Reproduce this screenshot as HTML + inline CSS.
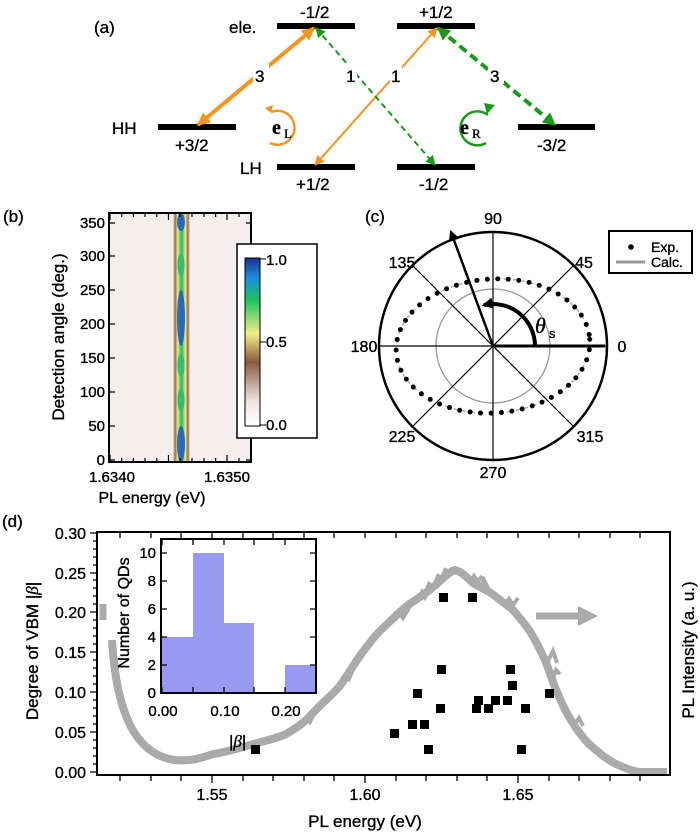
<!DOCTYPE html>
<html><head><meta charset="utf-8"><style>
html,body{margin:0;padding:0;background:#fff}
svg{display:block;font-family:"Liberation Sans",Arial,sans-serif}
text{stroke:#000;stroke-width:0.35}
</style></head><body>
<svg width="700" height="832" viewBox="0 0 700 832" xmlns="http://www.w3.org/2000/svg">
<defs>
<marker id="ao" viewBox="0 0 10 10" refX="9" refY="5" markerUnits="userSpaceOnUse" markerWidth="11" markerHeight="10" orient="auto-start-reverse"><path d="M0,0L10,5L0,10z" fill="#f7941d"/></marker>
<marker id="ao2" viewBox="0 0 10 10" refX="9" refY="5" markerUnits="userSpaceOnUse" markerWidth="15" markerHeight="13" orient="auto-start-reverse"><path d="M0,0L10,5L0,10z" fill="#f7941d"/></marker>
<marker id="ag" viewBox="0 0 10 10" refX="9" refY="5" markerUnits="userSpaceOnUse" markerWidth="11" markerHeight="10" orient="auto-start-reverse"><path d="M0,0L10,5L0,10z" fill="#1a9a1a"/></marker>
<marker id="ag2" viewBox="0 0 10 10" refX="9" refY="5" markerUnits="userSpaceOnUse" markerWidth="15" markerHeight="13" orient="auto-start-reverse"><path d="M0,0L10,5L0,10z" fill="#1a9a1a"/></marker>
<marker id="ak" viewBox="0 0 10 10" refX="8" refY="5" markerUnits="userSpaceOnUse" markerWidth="13" markerHeight="11" orient="auto"><path d="M0,0L10,5L0,10z" fill="#000"/></marker>
<linearGradient id="cb" x1="0" y1="1" x2="0" y2="0">
<stop offset="0" stop-color="#ffffff"/><stop offset="0.15" stop-color="#ece4e2"/><stop offset="0.38" stop-color="#8a5a3e"/><stop offset="0.55" stop-color="#f3ee88"/><stop offset="0.75" stop-color="#20c060"/><stop offset="0.88" stop-color="#1a90e0"/><stop offset="1" stop-color="#1a2e90"/></linearGradient>
<linearGradient id="ln" x1="0" y1="0" x2="1" y2="0">
<stop offset="0" stop-color="#f3ecea"/><stop offset="0.12" stop-color="#9a6a4a"/><stop offset="0.28" stop-color="#f0ea80"/><stop offset="0.45" stop-color="#40c070"/><stop offset="0.55" stop-color="#40c070"/><stop offset="0.72" stop-color="#f0ea80"/><stop offset="0.88" stop-color="#9a6a4a"/><stop offset="1" stop-color="#f3ecea"/></linearGradient>
</defs>

<!-- Panel (a) -->
<g font-size="17" fill="#000">
<text x="94" y="33">(a)</text>
<text x="229" y="33">ele.</text>
<text x="300" y="18">-1/2</text>
<text x="419" y="18">+1/2</text>
<text x="112" y="134">HH</text>
<text x="175" y="151">+3/2</text>
<text x="537" y="151">-3/2</text>
<text x="240" y="174">LH</text>
<text x="296" y="190">+1/2</text>
<text x="419" y="190">-1/2</text>
</g>
<g fill="#000">
<rect x="277" y="23" width="78" height="6"/><rect x="397" y="23" width="78" height="6"/>
<rect x="158" y="124" width="78" height="6"/><rect x="518" y="124" width="77" height="6"/>
<rect x="277" y="164" width="78" height="6"/><rect x="397" y="164" width="78" height="6"/>
</g>
<line x1="314" y1="28" x2="198" y2="125" stroke="#f7941d" stroke-width="4" marker-start="url(#ao2)" marker-end="url(#ao2)"/>
<line x1="437" y1="28" x2="315" y2="165" stroke="#f7941d" stroke-width="2" marker-start="url(#ao)" marker-end="url(#ao)"/>
<line x1="316" y1="28" x2="435" y2="165" stroke="#1a9a1a" stroke-width="2" stroke-dasharray="6,4" marker-start="url(#ag)" marker-end="url(#ag)"/>
<line x1="438" y1="28" x2="555" y2="125" stroke="#1a9a1a" stroke-width="4" stroke-dasharray="9,5" marker-start="url(#ag2)" marker-end="url(#ag2)"/>
<rect x="253" y="64" width="16" height="20" fill="#fff"/><text x="255" y="82" font-size="17">3</text>
<rect x="345" y="64" width="12" height="20" fill="#fff"/><text x="346" y="82" font-size="17">1</text>
<rect x="390" y="64" width="12" height="20" fill="#fff"/><text x="391" y="82" font-size="17">1</text>
<rect x="488" y="64" width="16" height="20" fill="#fff"/><text x="490" y="82" font-size="17">3</text>
<path d="M271,112 A17,17 0 1 1 270,143" fill="none" stroke="#f7941d" stroke-width="2.5"/>
<path d="M265,108 l8,-3 -2,8z" fill="#f7941d"/>
<text x="272" y="134" font-family="Liberation Serif,serif" font-weight="bold" font-size="20" fill="#000">e</text><text x="284" y="138" font-family="Liberation Serif,serif" font-size="13">L</text>
<path d="M488,115 A17,17 0 1 0 486,143" fill="none" stroke="#1a9a1a" stroke-width="2.5"/>
<path d="M484,103 l11,2 -8,9z" fill="#1a9a1a"/>
<text x="460" y="134" font-family="Liberation Serif,serif" font-weight="bold" font-size="20">e</text><text x="472" y="138" font-family="Liberation Serif,serif" font-size="13">R</text>

<!-- Panel (b) -->
<text x="3" y="222" font-size="17">(b)</text>
<rect x="109" y="213" width="142" height="249" fill="#f4efee"/>
<rect x="173" y="213" width="17" height="249" fill="url(#ln)"/>
<g fill="#2060c0" opacity="0.9">
<ellipse cx="181" cy="444" rx="4" ry="18"/><ellipse cx="181" cy="318" rx="4" ry="28"/><ellipse cx="181" cy="222" rx="4" ry="9"/>
</g>
<g fill="#30c070"><ellipse cx="181" cy="400" rx="3.5" ry="12"/><ellipse cx="181" cy="365" rx="3.5" ry="12"/><ellipse cx="181" cy="265" rx="3.5" ry="12"/></g>
<rect x="109" y="213" width="142" height="249" fill="none" stroke="#000" stroke-width="2"/>
<g stroke="#000" stroke-width="1.2">
<path d="M109,460h6M109,426h6M109,392h6M109,358h6M109,324h6M109,290h6M109,256h6M109,223h6"/>
<path d="M251,460h-5M251,426h-5M251,392h-5M251,358h-5M251,324h-5M251,290h-5M251,256h-5M251,223h-5"/>
<path d="M110,462v-7M121.7,462v-4M133.4,462v-4M145,462v-4M156.8,462v-4M168.5,462v-7M180,462v-4M192,462v-4M204,462v-4M215.6,462v-4M227,462v-7M239,462v-4M251,462v-4"/>
<path d="M110,213v7M121.7,213v4M133.4,213v4M145,213v4M156.8,213v4M168.5,213v7M180,213v4M192,213v4M204,213v4M215.6,213v4M227,213v7M239,213v4"/>
</g>
<g font-size="15" text-anchor="end">
<text x="105" y="465">0</text><text x="105" y="431">50</text><text x="105" y="397">100</text><text x="105" y="363">150</text><text x="105" y="329">200</text><text x="105" y="295">250</text><text x="105" y="261">300</text><text x="105" y="228">350</text>
</g>
<g font-size="15" text-anchor="middle"><text x="112" y="482">1.6340</text><text x="227" y="482">1.6350</text><text x="152" y="503" font-size="16">PL energy (eV)</text></g>
<text transform="translate(64,337) rotate(-90)" font-size="17" text-anchor="middle">Detection angle (deg.)</text>
<rect x="237" y="244" width="80" height="194" fill="#fff" stroke="#000" stroke-width="1.5"/>
<rect x="245" y="258" width="15" height="168" fill="url(#cb)" stroke="#000" stroke-width="1"/>
<g stroke="#000"><path d="M260,259h6M260,342h6M260,425h6"/></g>
<g font-size="15"><text x="266" y="265">1.0</text><text x="266" y="347">0.5</text><text x="266" y="430">0.0</text></g>

<!-- Panel (c) -->
<text x="365" y="222" font-size="17">(c)</text>
<circle cx="493" cy="346" r="114" fill="none" stroke="#000" stroke-width="2.5"/>
<circle cx="493" cy="346" r="57" fill="none" stroke="#999" stroke-width="1.3"/>
<g stroke="#000" stroke-width="1.2">
<line x1="379" y1="346" x2="607" y2="346"/><line x1="493" y1="232" x2="493" y2="460"/>
<line x1="412" y1="265" x2="574" y2="427"/><line x1="574" y1="265" x2="412" y2="427"/>
</g>
<ellipse cx="493" cy="346" rx="97" ry="67" transform="rotate(-4 493 346)" fill="none" stroke="#aaa" stroke-width="1.5" stroke-dasharray="3,6"/>
<ellipse cx="493" cy="346" rx="97" ry="67" transform="rotate(-4 493 346)" fill="none" stroke="#000" stroke-width="5" stroke-linecap="round" stroke-dasharray="0,10.5"/>
<line x1="493" y1="346" x2="605" y2="346" stroke="#000" stroke-width="3"/>
<path d="M535,346 A42,42 0 0 0 484,305" fill="none" stroke="#000" stroke-width="4" marker-end="url(#ak)"/>
<line x1="493" y1="346" x2="451" y2="232" stroke="#000" stroke-width="2.5" marker-end="url(#ak)"/>
<text x="535" y="333" font-family="Liberation Serif,serif" font-style="italic" font-size="22">θ</text><text x="549" y="338" font-size="13">s</text>
<g font-size="16" text-anchor="middle" fill="#000">
<text x="493" y="224">90</text><text x="584" y="268">45</text><text x="402" y="268">135</text>
<text x="622" y="352">0</text><text x="364" y="352">180</text>
<text x="402" y="442">225</text><text x="590" y="442">315</text><text x="493" y="478">270</text>
</g>
<rect x="609" y="231" width="83" height="42" fill="#fff" stroke="#000" stroke-width="2"/>
<circle cx="631" cy="247" r="2.8" fill="#000"/><text x="651" y="252" font-size="14">Exp.</text>
<line x1="616" y1="262" x2="645" y2="262" stroke="#999" stroke-width="3"/><text x="651" y="267" font-size="14">Calc.</text>

<!-- Panel (d) -->
<text x="2" y="527" font-size="17">(d)</text>
<path d="M103,604 L103,620" stroke="#aaa" stroke-width="7"/>
<path d="M112,640 C114,670 118,700 130,725 C140,745 155,757 174,760 C195,762 205,756 214,754 C230,751 240,748 250,745 C268,740 278,738 286,734 C298,727 305,722 312,714 C325,700 330,697 339,687 C350,672 355,662 362,653 C372,640 377,633 384,627 C395,617 402,609 411,603 C420,597 428,592 433,587 C442,580 448,572 455,570 C463,572 468,579 473,583 C481,588 486,590 491,593 C500,600 507,605 513,610 C520,618 526,625 531,633 C538,645 541,652 545,660 C550,672 553,684 558,694 C562,704 566,712 571,720 C577,730 582,737 589,744 C598,752 606,759 616,764 C625,768 632,771 640,772 L667,772" fill="none" stroke="#aaa" stroke-width="8" stroke-linejoin="round"/>
<path d="M300,726 l6,-8 l4,4 l6,-12 M340,686 l5,-10 l4,3 l5,-12 M395,620 l5,-6 l3,4 l6,-10 M418,600 l4,-8 l3,5 l4,-10 M425,594 l4,-10 l4,4 l5,-12 l4,2 l4,-10 M470,584 l4,-8 l4,6 l4,-6 M480,590 l4,-10 l4,8 M505,605 l4,-6 l4,6 l5,-7 M545,657 l4,2 l4,-8 l4,12 M552,682 l4,-12 l4,4 M575,724 l4,-6 l4,8" fill="none" stroke="#aaa" stroke-width="4"/>
<path d="M536,616 h46" stroke="#aaa" stroke-width="7"/><path d="M578,606 l20,10 -20,10z" fill="#aaa"/>
<g fill="#000">
<rect x="439" y="593" width="9" height="9"/><rect x="468" y="593" width="9" height="9"/>
<rect x="437" y="665" width="9" height="9"/><rect x="506" y="665" width="9" height="9"/>
<rect x="508" y="681" width="9" height="9"/><rect x="413" y="689" width="9" height="9"/>
<rect x="545" y="689" width="9" height="9"/><rect x="474" y="696" width="9" height="9"/>
<rect x="491" y="696" width="9" height="9"/><rect x="503" y="696" width="9" height="9"/>
<rect x="436" y="704" width="9" height="9"/><rect x="472" y="704" width="9" height="9"/>
<rect x="484" y="704" width="9" height="9"/><rect x="521" y="704" width="9" height="9"/>
<rect x="408" y="720" width="9" height="9"/><rect x="420" y="720" width="9" height="9"/>
<rect x="390" y="729" width="9" height="9"/><rect x="424" y="745" width="9" height="9"/>
<rect x="517" y="745" width="9" height="9"/><rect x="251" y="745" width="9" height="9"/>
</g>
<rect x="97" y="532" width="573" height="243" fill="none" stroke="#000" stroke-width="2"/>
<g stroke="#000" stroke-width="1.3">
<path d="M97,772h-7M97,732h-7M97,692h-7M97,652h-7M97,612h-7M97,573h-7M97,533h-7"/>
<path d="M97,764h-4M97,756h-4M97,748h-4M97,740h-4M97,724h-4M97,716h-4M97,708h-4M97,700h-4M97,684h-4M97,676h-4M97,668h-4M97,660h-4M97,644h-4M97,636h-4M97,628h-4M97,620h-4M97,604h-4M97,596h-4M97,588h-4M97,580h-4M97,565h-4M97,557h-4M97,549h-4M97,541h-4"/>
<path d="M120,775v6M151,775v6M181,775v6M212,775v8M243,775v6M273,775v6M304,775v6M334,775v6M365,775v8M396,775v6M426,775v6M457,775v6M487,775v6M518,775v8M549,775v6M579,775v6M610,775v6M640,775v6"/>
<path d="M120,532v6M151,532v6M181,532v6M212,532v6M243,532v6M273,532v6M304,532v6M334,532v6M365,532v6M396,532v6M426,532v6M457,532v6M487,532v6M518,532v6M549,532v6M579,532v6M610,532v6M640,532v6"/>
</g>
<g font-size="16" text-anchor="end">
<text x="86" y="778">0.00</text><text x="86" y="738">0.05</text><text x="86" y="698">0.10</text><text x="86" y="658">0.15</text><text x="86" y="618">0.20</text><text x="86" y="579">0.25</text><text x="86" y="539">0.30</text>
</g>
<g font-size="16" text-anchor="middle"><text x="212" y="800">1.55</text><text x="365" y="800">1.60</text><text x="518" y="800">1.65</text>
<text x="365" y="827" font-size="17">PL energy (eV)</text></g>
<text transform="translate(38,651) rotate(-90)" font-size="17" text-anchor="middle">Degree of VBM |<tspan font-family="Liberation Serif,serif" font-style="italic">β</tspan>|</text>
<text transform="translate(694,650) rotate(-90)" font-size="17" text-anchor="middle">PL Intensity (a. u.)</text>

<!-- inset -->
<rect x="161" y="539" width="155" height="154" fill="#fff"/>
<g fill="#9999f2">
<rect x="162" y="637" width="31" height="56"/><rect x="193" y="553" width="31" height="140"/><rect x="224" y="623" width="30" height="70"/><rect x="285" y="665" width="31" height="28"/>
</g>
<rect x="161" y="539" width="155" height="154" fill="none" stroke="#000" stroke-width="2"/>
<g stroke="#000" stroke-width="1.3">
<path d="M161,693h6M161,665h6M161,637h6M161,609h6M161,581h6M161,553h6"/>
<path d="M316,693h-6M316,665h-6M316,637h-6M316,609h-6M316,581h-6M316,553h-6"/>
<path d="M162,693v-6M193,693v-6M224,693v-6M254,693v-6M285,693v-6M162,539v6M193,539v6M224,539v6M254,539v6M285,539v6"/>
</g>
<g font-size="15" text-anchor="end"><text x="156" y="698">0</text><text x="156" y="670">2</text><text x="156" y="642">4</text><text x="156" y="614">6</text><text x="156" y="586">8</text><text x="156" y="558">10</text></g>
<g font-size="15" text-anchor="middle"><text x="163" y="716">0.00</text><text x="225" y="716">0.10</text><text x="286" y="716">0.20</text></g>
<text transform="translate(129,613) rotate(-90)" font-size="16" text-anchor="middle">Number of QDs</text>
<text x="229" y="747" font-size="17">|<tspan font-family="Liberation Serif,serif" font-style="italic">β</tspan>|</text>
</svg>
</body></html>
